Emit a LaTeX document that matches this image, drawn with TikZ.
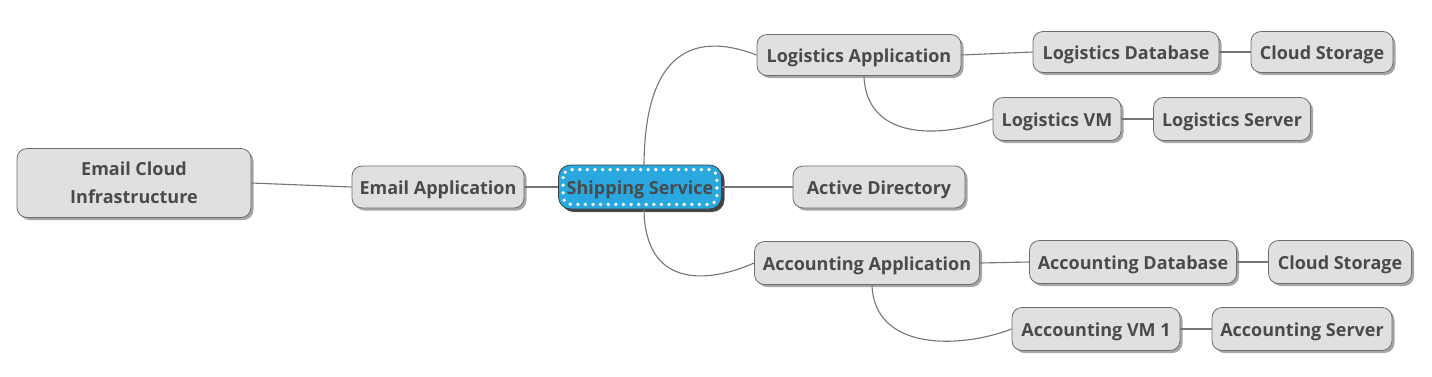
\documentclass[tikz,border=0pt]{standalone}
\usepackage{fontspec}
\setmainfont{Open Sans}
\usepackage{tikz}
\usetikzlibrary{calc,shadows}

\definecolor{boxfill}{HTML}{E0E0E0}
\definecolor{boxline}{HTML}{6E6E6E}
\definecolor{txtgray}{HTML}{4A4A4A}
\definecolor{shipblue}{HTML}{29A8E0}
\definecolor{wiregray}{HTML}{757575}

\begin{document}
\begin{tikzpicture}[
    x=1pt, y=-1pt,
    font=\fontsize{18}{24}\selectfont\bfseries,
    topic/.style={draw=boxline, line width=0.8pt, fill=boxfill, text=txtgray,
        rounded corners=10pt, inner sep=0pt, minimum height=42pt,
        text height=15pt, text depth=1pt,
        drop shadow={shadow xshift=2.5pt, shadow yshift=-2.5pt, fill=black, opacity=0.35}},
    link/.style={wiregray, line width=1.1pt}
]
\useasboundingbox (0,0) rectangle (1432,376);

% =========================================================================
% 1. CENTRAL TOPIC
% =========================================================================
\node[topic, fill=shipblue, draw=black!75, minimum width=163pt, minimum height=44pt,
      rounded corners=12pt,
      drop shadow={shadow xshift=3pt, shadow yshift=-3pt, fill=black, opacity=0.6}]
      (ship) at (640,187) {Shipping Service};
\draw[white, line width=3.8pt, line cap=round, dash pattern=on 0pt off 7.6pt, rounded corners=8pt]
    ($(ship.north west)+(5,5)$) rectangle ($(ship.south east)+(-5,-5)$);

% =========================================================================
% 2. LEFT BRANCH
% =========================================================================
\node[topic, minimum width=172pt] (emailapp) at (438,187) {Email Application};
\node[topic, minimum width=234pt, minimum height=69pt, align=center,
      text height=, text depth=,
      font=\fontsize{18}{28}\selectfont\bfseries] (emailcloud) at (134,183)
      {Email Cloud\\Infrastructure};

\draw[link] (ship.west) -- (emailapp.east);
\draw[link] (emailapp.west) -- (emailcloud.east);

% =========================================================================
% 3. RIGHT BRANCHES
% =========================================================================
% Logistics
\node[topic, minimum width=204pt, minimum height=41pt] (logapp) at (859,55) {Logistics Application};
\node[topic, minimum width=186pt, minimum height=41pt] (logdb) at (1126,52) {Logistics Database};
\node[topic, minimum width=142pt, minimum height=41pt] (logstore) at (1322,52) {Cloud Storage};
\node[topic, minimum width=128pt, minimum height=43pt] (logvm) at (1057,119) {Logistics VM};
\node[topic, minimum width=157pt, minimum height=43pt] (logsrv) at (1232,119) {Logistics Server};

% Active Directory
\node[topic, minimum width=172pt] (ad) at (879,187) {Active Directory};

% Accounting
\node[topic, minimum width=225pt, minimum height=43pt] (accapp) at (867,263) {Accounting Application};
\node[topic, minimum width=207pt, minimum height=43pt] (accdb) at (1133,262) {Accounting Database};
\node[topic, minimum width=143pt, minimum height=43pt] (accstore) at (1340,262) {Cloud Storage};
\node[topic, minimum width=168pt, minimum height=43pt] (accvm) at (1096,329) {Accounting VM 1};
\node[topic, minimum width=180pt, minimum height=43pt] (accsrv) at (1302,329) {Accounting Server};

% Curved links from central topic
\draw[link] ([xshift=4pt]ship.north) .. controls +(1,-125) and +(-52,-20) .. (logapp.west);
\draw[link] ([xshift=4pt]ship.south) .. controls +(1,80) and +(-45,20) .. (accapp.west);
\draw[link] (ship.east) -- (ad.west);

% Logistics links
\draw[link] (logapp.east) -- (logdb.west);
\draw[link] (logdb.east) -- (logstore.west);
\draw[link] ([xshift=5pt]logapp.south) .. controls +(2,64) and +(-53,20) .. (logvm.west);
\draw[link] (logvm.east) -- (logsrv.west);

% Accounting links
\draw[link] (accapp.east) -- (accdb.west);
\draw[link] (accdb.east) -- (accstore.west);
\draw[link] ([xshift=5pt]accapp.south) .. controls +(2,66) and +(-52,20) .. (accvm.west);
\draw[link] (accvm.east) -- (accsrv.west);

\end{tikzpicture}
\end{document}
